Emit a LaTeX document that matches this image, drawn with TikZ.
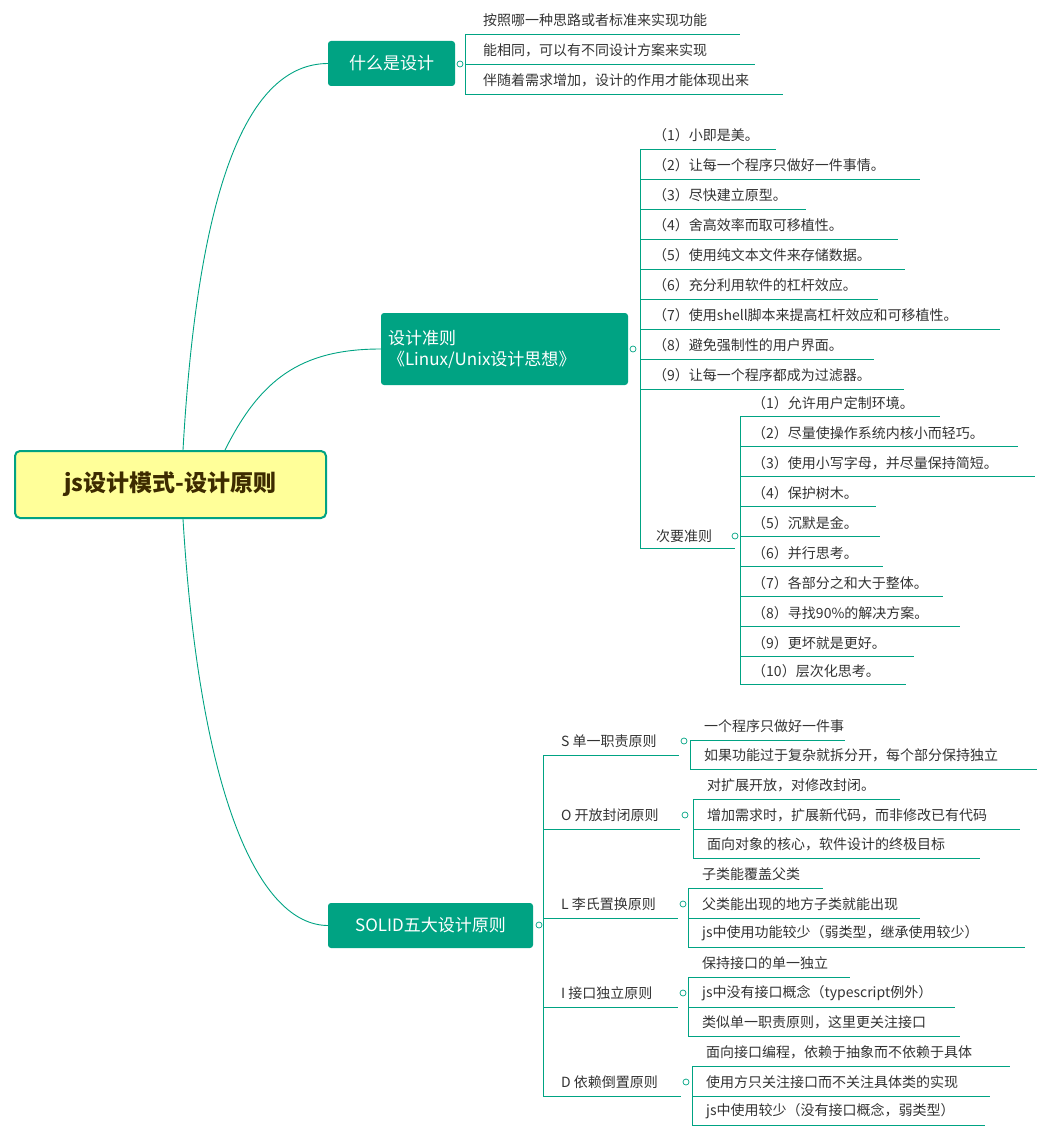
\documentclass[tikz,border=0pt]{standalone}
\usepackage{fontspec}
\setmainfont{Noto Sans CJK SC}
\definecolor{teal}{HTML}{00A383}
\definecolor{rootfill}{HTML}{FFFF99}
\definecolor{roottext}{HTML}{3D2B00}
\definecolor{leaftext}{HTML}{333333}
\begin{document}
\begin{tikzpicture}[x=1pt,y=-1pt,
  line/.style={teal,line width=0.9pt},
  branch/.style={fill=teal,rounded corners=3pt,text=white,font=\fontsize{17}{21}\selectfont,inner sep=0pt,align=left},
  leaf/.style={anchor=west,text=leaftext,font=\fontsize{14}{16}\selectfont,inner sep=0pt},
  knob/.style={circle,draw=teal,fill=white,line width=0.7pt,minimum size=6pt,inner sep=0pt}]
\useasboundingbox (0,0) rectangle (1045,1139);
% root
\node[draw=teal,line width=2pt,fill=rootfill,rounded corners=5pt,minimum width=311pt,minimum height=67pt,text=roottext,font=\fontsize{23}{27}\selectfont\bfseries] (root) at (170.5,484.5) {js设计模式-设计原则};
% branches
\node[branch,minimum width=127pt,minimum height=45pt,align=center] (b1) at (391.5,63.5) {什么是设计};
\node[branch,minimum width=247pt,minimum height=72pt,text width=233pt] (b2) at (504.5,349) {设计准则\\《Linux/Unix设计思想》};
\node[branch,minimum width=205pt,minimum height=45pt,align=center] (b3) at (430.5,925.5) {SOLID五大设计原则};
\draw[line] (183,450) .. controls (200,150) and (260,64) .. (b1.west);
\draw[line] (225,450) .. controls (260,380) and (300,349) .. (b2.west);
\draw[line] (183,519) .. controls (200,800) and (260,925) .. (b3.west);
% generic helpers
\newcommand{\leafset}[5]{% vx, list of yu/xr/text, textx
}
% branch1
\node[knob] (k1) at (460,64) {};
\draw[line] (465,34) -- (465,94);
\foreach \yu/\xr/\t in {34/740/按照哪一种思路或者标准来实现功能,64/755/能相同，可以有不同设计方案来实现,94/783/伴随着需求增加，设计的作用才能体现出来}{
  \draw[line,line width=0.6pt] (465,\yu) -- (\xr,\yu);
  \node[leaf] at (483,\yu-14) {\t};}
% branch2
\draw[line] (640,149) -- (640,548);
\foreach \yu/\xr/\t in {149/776/（1）小即是美。,179/920/（2）让每一个程序只做好一件事情。,209/806/（3）尽快建立原型。,239/898/（4）舍高效率而取可移植性。,269/905/（5）使用纯文本文件来存储数据。,299/878/（6）充分利用软件的杠杆效应。,329/1000/（7）使用shell脚本来提高杠杆效应和可移植性。,359/874/（8）避免强制性的用户界面。,389/904/（9）让每一个程序都成为过滤器。}{
  \draw[line,line width=0.6pt] (640,\yu) -- (\xr,\yu);
  \node[leaf] at (653,\yu-14) {\t};}
\draw[line,line width=0.6pt] (640,548) -- (735,548);
\node[leaf] (minor) at (656,536) {次要准则};
\node[knob] (k2) at (633,349) {};
\node[knob] (k2b) at (735,536) {};
\draw[line] (740,416) -- (740,684);
\foreach \yu/\xr/\t in {416/940/（1）允许用户定制环境。,446/1018/（2）尽量使操作系统内核小而轻巧。,476/1035/（3）使用小写字母，并尽量保持简短。,506/876/（4）保护树木。,536/880/（5）沉默是金。,566/883/（6）并行思考。,596/943/（7）各部分之和大于整体。,626/960/（8）寻找90\%的解决方案。,656/914/（9）更坏就是更好。,684/906/（10）层次化思考。}{
  \draw[line,line width=0.6pt] (740,\yu) -- (\xr,\yu);
  \node[leaf] at (752,\yu-13) {\t};}
% branch3
\node[knob] (k3) at (539,925) {};
\draw[line] (543,755) -- (543,1096);
\foreach \yu/\xr/\t/\vx/\ya/\yb in {755/684/S 单一职责原则/690/740/769, 829/685/O 开放封闭原则/693/799/858, 918/683/L 李氏置换原则/688/888/947, 1007/683/I 接口独立原则/688/977/1036, 1096/686/D 依赖倒置原则/692/1066/1125}{
  \draw[line,line width=0.6pt] (543,\yu) -- (\xr-5,\yu);
  \node[leaf] at (561,\yu-14) {\t};
  \node[knob] at (\xr,\yu-14) {};
  \draw[line] (\vx,\ya) -- (\vx,\yb);}
\foreach \vx/\yu/\xr/\t in {690/740/845/一个程序只做好一件事, 690/769/1037/如果功能过于复杂就拆分开，每个部分保持独立,
 693/799/900/对扩展开放，对修改封闭。, 693/829/1020/增加需求时，扩展新代码，而非修改已有代码, 693/858/980/面向对象的核心，软件设计的终极目标,
 688/888/823/子类能覆盖父类, 688/918/920/父类能出现的地方子类就能出现, 688/947/1025/js中使用功能较少（弱类型，继承使用较少）,
 688/977/850/保持接口的单一独立, 688/1007/955/js中没有接口概念（typescript例外）, 688/1036/960/类似单一职责原则，这里更关注接口,
 692/1066/1010/面向接口编程，依赖于抽象而不依赖于具体, 692/1096/990/使用方只关注接口而不关注具体类的实现, 692/1125/985/js中使用较少（没有接口概念，弱类型）}{
  \draw[line,line width=0.6pt] (\vx,\yu) -- (\xr,\yu);
  \node[leaf] at (\vx+14,\yu-14) {\t};}
\end{tikzpicture}
\end{document}
